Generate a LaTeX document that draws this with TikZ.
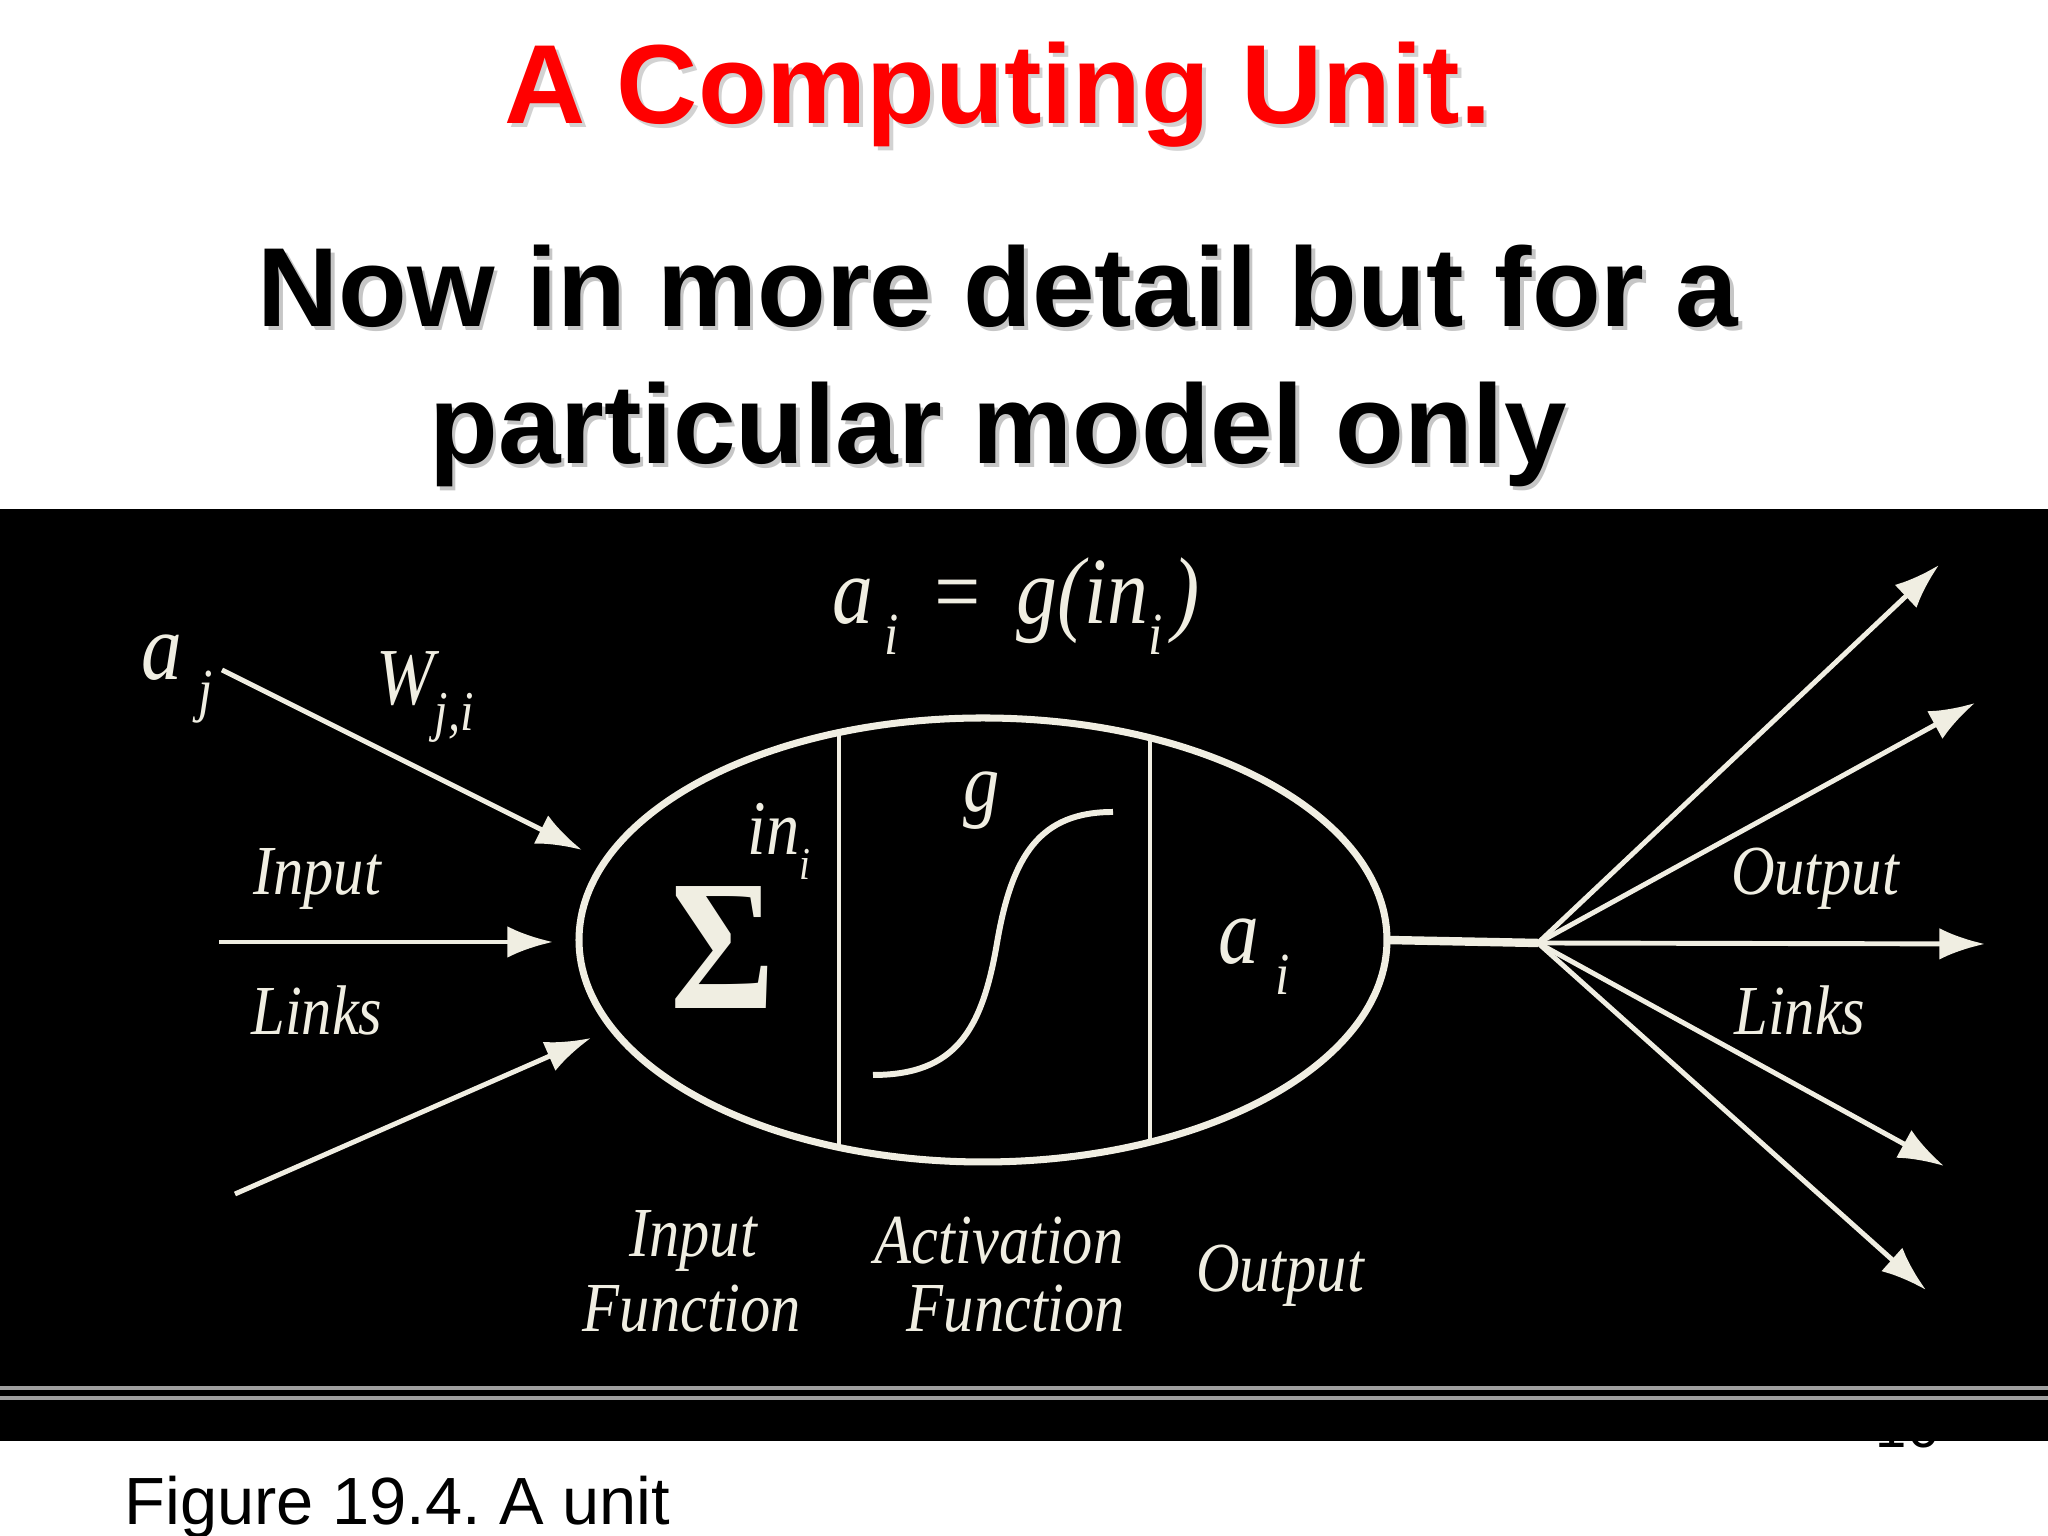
\documentclass[tikz,border=0pt]{standalone}
\usepackage{fontspec}
\setmainfont{Liberation Sans}
\newfontfamily\diagfont[FakeStretch=0.86]{Liberation Serif}
\usetikzlibrary{arrows.meta}
\definecolor{chalk}{RGB}{240,238,226}
\definecolor{slidered}{RGB}{255,0,0}
\newcommand{\lowidx}[2]{\raisebox{-0.32em}{\fontsize{#1}{#1}\selectfont #2}}
\tikzset{
	link/.style={chalk, line width=1.4pt, -{Latex[length=13pt,width=9pt]}},
	lbl/.style={text=chalk, font=\diagfont\itshape\fontsize{20}{20}\selectfont, inner sep=0pt},
	sym/.style={text=chalk, font=\diagfont\itshape\fontsize{#1}{#1}\selectfont, inner sep=0pt},
	heading/.style={font=\bfseries\fontsize{32}{32}\selectfont, inner sep=0pt, anchor=base},
}

\begin{document}
\begin{tikzpicture}
		\def\rx{4.04};
		\def\ry{2.22};
		\useasboundingbox (0,0) rectangle (20.48,15.36);
		\fill[white] (0,0) rectangle (20.48,15.36);
		% slide headings
		\node[heading, text=gray!35] at (10.015,14.085) {A Computing Unit.};
		\node[heading, text=slidered] (title) at (9.98,14.12) {A Computing Unit.};
		\node[heading, text=gray!45] at (10.015,12.055) {Now in more detail but for a};
		\node[heading] (sub1) at (9.98,12.09) {Now in more detail but for a};
		\node[heading, text=gray!45] at (10.015,10.685) {particular model only};
		\node[heading] (sub2) at (9.98,10.72) {particular model only};
		% page number, mostly under the panel
		\node[anchor=base, font=\fontsize{16}{16}\selectfont, inner sep=0pt] (pageno) at (19.07,0.88) {16};
		% black figure panel
		\fill[black] (0,0.95) rectangle (20.48,10.27);
		\draw[gray!75, line width=1.1pt] (0,1.48) -- (20.48,1.48);
		\draw[gray!75, line width=1.1pt] (0,1.38) -- (20.48,1.38);
		\node[anchor=base west, font=\fontsize{19}{19}\selectfont, inner sep=0pt] (caption) at (1.24,0.11) {Figure 19.4.\ A unit};
		% the unit
		\coordinate (ctr) at (9.83,5.96);
		\draw[chalk, line width=2pt] (ctr) ellipse ({\rx} and {\ry});
		\begin{scope}
			\clip (ctr) ellipse ({\rx} and {\ry});
			\draw[chalk, line width=0.9pt] (8.39,3) -- (8.39,9);
			\draw[chalk, line width=0.9pt] (11.50,3) -- (11.50,9);
		\end{scope}
		\node[text=chalk, font=\diagfont\bfseries\fontsize{53}{53}\selectfont, inner sep=0pt] (sigma) at (7.23,5.88) {Σ};
		\node[sym=22, anchor=base west] (ini) at (7.47,6.81) {in\lowidx{13}{i}};
		\node[sym=24, anchor=base] (gname) at (9.82,7.24) {g};
		\draw[chalk, line width=1.7pt] (8.73,4.61) .. controls (9.55,4.61) and (9.82,5.05) .. (9.97,5.93)
			.. controls (10.12,6.81) and (10.4,7.24) .. (11.13,7.24);
		\node[sym=27, anchor=base west] (aout) at (12.18,5.72) {a\,\lowidx{17}{i}};
		\node[sym=27, anchor=base west] (rule) at (8.32,9.12) {a\hspace{3pt}\lowidx{17}{i}\hspace{9pt}=\hspace{9pt}g(in\lowidx{17}{i}\hspace{3pt})};
		% input links
		\coordinate (ina) at (2.22,8.66);
		\coordinate (inaend) at (5.82,6.86);
		\coordinate (inb) at (2.19,5.94);
		\coordinate (inbend) at (5.53,5.94);
		\coordinate (inc) at (2.35,3.42);
		\coordinate (incend) at (5.91,4.98);
		\draw[link] (ina) -- (inaend);
		\draw[link] (inb) -- (inbend);
		\draw[link] (inc) -- (incend);
		\node[sym=27, anchor=base west] (aj) at (1.41,8.56) {a\,\lowidx{17}{j}};
		\node[sym=23, anchor=base west] (wji) at (3.76,8.31) {W\lowidx{16}{j,i}};
		\node[lbl] (inlab) at (3.17,6.57) {Input};
		\node[lbl] (inlinks) at (3.17,5.26) {Links};
		% output links
		\coordinate (uright) at (13.87,5.96);
		\coordinate (fan) at (15.38,5.93);
		\coordinate (oa) at (19.39,9.71);
		\coordinate (ob) at (19.75,8.33);
		\coordinate (oc) at (19.85,5.92);
		\coordinate (od) at (19.44,3.70);
		\coordinate (oe) at (19.26,2.46);
		\draw[chalk, line width=2.4pt] (uright) -- (fan);
		\foreach \t in {oa,ob,oc,od,oe}
			\draw[link] (fan) -- (\t);
		\node[lbl] (outlab) at (18.15,6.57) {Output};
		\node[lbl] (outlinks) at (18.00,5.26) {Links};
		% part names
		\node[lbl] (infn1) at (6.93,2.95) {Input};
		\node[lbl] (infn2) at (6.92,2.27) {Function};
		\node[lbl] (actfn1) at (9.99,2.95) {Activation};
		\node[lbl] (actfn2) at (10.16,2.27) {Function};
		\node[lbl] (outpart) at (12.80,2.60) {Output};
		\end{tikzpicture}
\end{document}
